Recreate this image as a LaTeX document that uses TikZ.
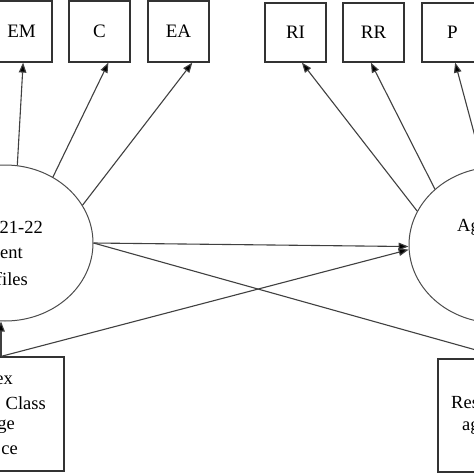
\documentclass[tikz,border=0pt]{standalone}
\usepackage{fontspec}
\setmainfont{Liberation Serif}
\usetikzlibrary{shapes.geometric,arrows.meta}
\begin{document}
\begin{tikzpicture}[x=1pt,y=-1pt,
  lbox/.style={draw=black!80,line width=1.2pt,minimum width=61pt,minimum height=61pt,inner sep=0pt,font=\fontsize{19}{19}\selectfont},
  rbox/.style={lbox,minimum height=59pt},
  ell/.style={draw=black!70,line width=1pt,ellipse,minimum width=176pt,minimum height=156pt,inner sep=0pt},
  frag/.style={inner sep=0pt,font=\fontsize{18.5}{18.5}\selectfont},
  con/.style={draw=black!75,line width=1.1pt},
  arr/.style={con,-{Triangle[length=10pt,width=7.5pt,fill=black]}}]
\useasboundingbox (0,0) rectangle (474,474);
\fill[white] (0,0) rectangle (474,474);
\clip (0,0) rectangle (474,474);
% top boxes
\node[lbox] (EM) at (21.5,31.5) {EM};
\node[lbox] (C) at (99.5,31.5) {C};
\node[lbox] (EA) at (178.5,31.5) {EA};
\node[rbox] (RI) at (295.5,32.5) {RI};
\node[rbox] (RR) at (373.5,32.5) {RR};
\node[rbox] (P) at (452.5,32.5) {P};
% ellipses
\node[ell] (L) at (5,243) {};
\node[ell] (R) at (497,245) {};
\node[frag,anchor=east] (l1) at (43,227) {21-22};
\node[frag,anchor=east] (l2) at (23,253) {ent};
\node[frag,anchor=east] (l3) at (28,279) {files};
\node[frag,anchor=west] (r1) at (457,227) {Ag};
% bottom boxes
\node[draw=black!80,line width=1.2pt,minimum width=126pt,minimum height=114pt,inner sep=0pt] (SB) at (1,414) {};
\node[frag,anchor=east] (s1) at (13,380) {ex};
\node[frag,anchor=east] (s2) at (46,403) {Class};
\node[frag,anchor=east] (s3) at (15,427) {ge};
\node[frag,anchor=east] (s4) at (18,450) {ce};
\node[draw=black!80,line width=1.2pt,minimum width=136pt,minimum height=113pt,inner sep=0pt] (SR) at (506,415.5) {};
\node[frag,anchor=west] (t1) at (451,403) {Res};
\node[frag,anchor=west] (t2) at (462,428) {ag};
% connectors from left ellipse
\draw[arr] (L.81) -- (EM.-87);
\draw[arr] (L.54) -- (C.-74);
\draw[arr] (L.26) -- (EA.-66);
% connectors from right ellipse
\draw[arr] (R.157) -- (RI.-78);
\draw[arr] (R.138) -- (RR.-95);
\draw[arr] (R.100) -- (P.-85);
% middle connectors
\draw[arr] (L.east) -- (R.181);
\draw[arr] (SB.north) -- (R.183);
\draw[con] (L.east) -- (SR.north);
\draw[arr] (SB.north) -- (SB.north |- L.south);
\end{tikzpicture}
\end{document}
